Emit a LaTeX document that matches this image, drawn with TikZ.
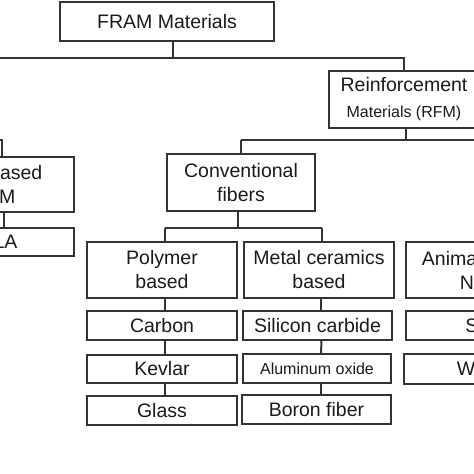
\documentclass[tikz,border=0pt]{standalone}
\usepackage{fontspec}
\setmainfont{Liberation Sans}
\definecolor{linec}{HTML}{333333}
\definecolor{textc}{HTML}{1A1A1A}
\begin{document}
\begin{tikzpicture}[x=1pt,y=-1pt,
  box/.style={draw=linec,line width=2pt,rectangle,inner sep=0pt,align=center,
    text=textc,font=\fontsize{19.5}{24}\selectfont,minimum width=150pt},
  tall/.style={box,minimum height=56pt},
  short/.style={box,minimum height=29pt},
  conn/.style={draw=linec,line width=2pt}]
\useasboundingbox (0,0) rectangle (474,474);
\clip (0,0) rectangle (474,474);
\fill[white] (0,0) rectangle (474,474);
% boxes
\node[box,minimum width=214pt,minimum height=38.5pt] (fram) at (167,21.5) {FRAM Materials};
\node[tall,minimum height=57pt] (rfm) at (404,99.5) {Reinforcement\\[2pt]{\fontsize{16}{20}\selectfont Materials (RFM)}};
\node[tall,minimum width=148pt,minimum height=57pt] (conv) at (241,182.5) {Conventional\\fibers};
\node[tall,minimum height=55pt] (bio) at (-1,184.5) {Bio based\\MM};
\node[short,minimum height=28pt] (pla) at (-1,242) {PLA};
\node[tall] (poly) at (162,270) {Polymer\\based};
\node[tall] (metal) at (319,270) {Metal ceramics\\based};
\node[tall] (animal) at (481,270) {Animal based\\NFM};
\node[short] (carbon) at (162,325.5) {Carbon};
\node[short,minimum height=28pt] (kevlar) at (162,369) {Kevlar};
\node[short] (glass) at (162,410.5) {Glass};
\node[short,minimum width=149pt] (sic) at (317.5,325.5) {Silicon carbide};
\node[short,minimum width=148pt] (alo) at (317,368.5) {\fontsize{16}{20}\selectfont Aluminum oxide};
\node[short,minimum width=149pt] (boron) at (316.5,409.5) {Boron fiber};
\node[short] (silk) at (481,325.5) {Silk};
\node[short,minimum height=30pt] (wool) at (479,369) {Wool};
% junction coordinates
\coordinate (j1) at (173,57.5);
\coordinate (jl) at (-20,57.5);
\coordinate (j2) at (404,57.5);
\coordinate (k1) at (406,140);
\coordinate (kr) at (490,140);
\coordinate (kc) at (241,140);
\coordinate (bl) at (-20,140);
\coordinate (bv) at (2,140);
\coordinate (m1) at (238,228);
\coordinate (mp) at (165,228);
\coordinate (mm) at (322,228);
% connectors
\draw[conn] (fram.south -| j1) -- (j1);
\draw[conn] (jl) -- (j2) -- (rfm.north -| j2);
\draw[conn] (rfm.south -| k1) -- (k1);
\draw[conn] (kc) -- (kr);
\draw[conn] (kc) -- (conv.north -| kc);
\draw[conn] (bl) -- (bv) -- (bio.north -| bv);
\draw[conn] ([xshift=5pt]bio.south) -- ([xshift=5pt]pla.north);
\draw[conn] (conv.south -| m1) -- (m1);
\draw[conn] (mp) -- (mm);
\draw[conn] (mp) -- (poly.north -| mp);
\draw[conn] (mm) -- (metal.north -| mm);
\draw[conn] ([xshift=3pt]poly.south) -- ([xshift=3pt]carbon.north);
\draw[conn] ([xshift=3pt]carbon.south) -- ([xshift=3pt]kevlar.north);
\draw[conn] ([xshift=3pt]kevlar.south) -- ([xshift=3pt]glass.north);
\draw[conn] ([xshift=3.5pt]sic.north) -- ([xshift=3.5pt]sic.north |- metal.south);
\draw[conn] ([xshift=4pt]sic.south) -- ([xshift=4pt]alo.north);
\draw[conn] ([xshift=4pt]alo.south) -- ([xshift=4pt]alo.south |- boron.north);
\draw[conn] (animal) -- (silk);
\draw[conn] (silk) -- (wool);
\end{tikzpicture}
\end{document}
